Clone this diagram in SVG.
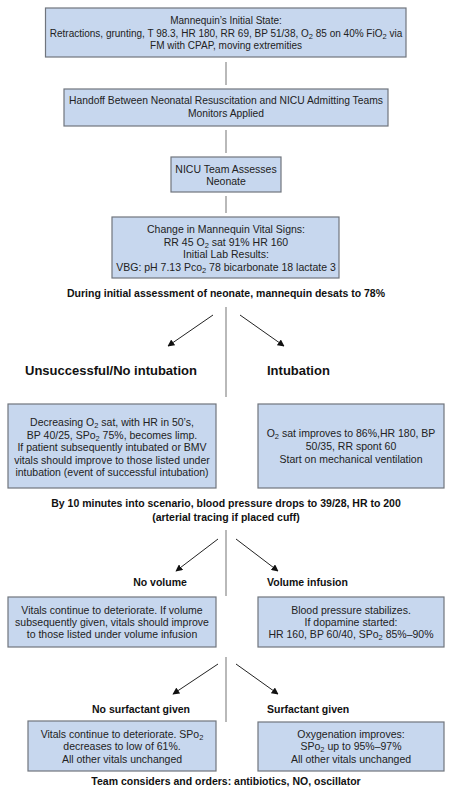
<svg xmlns="http://www.w3.org/2000/svg" width="474" height="799" viewBox="0 0 474 799">
<defs>
<style>
.box{fill:#c7d7ee;stroke:#70757d;stroke-width:1.2}
.t{font-family:"Liberation Sans",Arial,sans-serif;font-size:10.5px;fill:#222;text-anchor:middle}
.b{font-family:"Liberation Sans",Arial,sans-serif;font-size:10.5px;font-weight:bold;fill:#111;text-anchor:middle}
.h{font-family:"Liberation Sans",Arial,sans-serif;font-size:13px;font-weight:bold;fill:#111}
.s{font-size:7.5px;baseline-shift:-2px}
.v{stroke:#8a8a8a;stroke-width:1.2;fill:none}
.a{stroke:#222;stroke-width:1;fill:none;marker-end:url(#ah)}
</style>
<marker id="ah" viewBox="0 0 10 10" refX="9" refY="5" markerWidth="7" markerHeight="7" orient="auto" markerUnits="userSpaceOnUse"><path d="M0,0 L10,5 L0,10 z" fill="#111"/></marker>
</defs>
<rect width="474" height="799" fill="#fff"/>
<g id="connectors">
<line class="v" x1="226" y1="62" x2="226" y2="85"/>
<line class="v" x1="226" y1="130" x2="226" y2="153"/>
<line class="v" x1="226" y1="196" x2="226" y2="213"/>
<line class="v" x1="226" y1="307" x2="226" y2="397"/>
<line class="a" x1="213" y1="315" x2="168" y2="346"/>
<line class="a" x1="240" y1="315" x2="284" y2="346"/>
<line class="v" x1="226" y1="530" x2="226" y2="596"/>
<line class="a" x1="218" y1="539" x2="176" y2="571"/>
<line class="a" x1="236" y1="539" x2="278" y2="571"/>
<line class="v" x1="226" y1="657" x2="226" y2="722"/>
<line class="a" x1="218" y1="664" x2="173" y2="694"/>
<line class="a" x1="236" y1="664" x2="278" y2="694"/>
</g>
<g id="n1"><rect class="box" x="45.5" y="8" width="360.5" height="49"/>
<text class="t" x="226" y="24" style="font-size:10px">Mannequin’s Initial State:</text>
<text class="t" x="226" y="36.5" style="font-size:10px">Retractions, grunting, T 98.3, HR 180, RR 69, BP 51/38, O<tspan class="s">2</tspan> 85 on 40% FiO<tspan class="s">2</tspan> via</text>
<text class="t" x="226" y="49" style="font-size:10px">FM with CPAP, moving extremities</text></g>
<g id="n2"><rect class="box" x="64" y="89" width="324" height="37"/>
<text class="t" x="226" y="104" style="font-size:10.3px">Handoff Between Neonatal Resuscitation and NICU Admitting Teams</text>
<text class="t" x="226" y="117" style="font-size:10.3px">Monitors Applied</text></g>
<g id="n3"><rect class="box" x="171" y="157" width="110" height="35"/>
<text class="t" x="226" y="173">NICU Team Assesses</text>
<text class="t" x="226" y="185">Neonate</text></g>
<g id="n4"><rect class="box" x="112" y="217" width="227" height="61"/>
<text class="t" x="226" y="233">Change in Mannequin Vital Signs:</text>
<text class="t" x="226" y="245.5">RR 45 O<tspan class="s">2</tspan> sat 91% HR 160</text>
<text class="t" x="226" y="258">Initial Lab Results:</text>
<text class="t" x="226" y="270.5">VBG: pH 7.13 Pco<tspan class="s">2</tspan> 78 bicarbonate 18 lactate 3</text></g>
<g id="e1"><text class="b" x="226" y="297">During initial assessment of neonate, mannequin desats to 78%</text></g>
<g id="l1"><text class="h" x="25" y="375">Unsuccessful/No intubation</text></g>
<g id="l2"><text class="h" x="267" y="375">Intubation</text></g>
<g id="n5"><rect class="box" x="8" y="404" width="208" height="84"/>
<text class="t" x="112" y="426">Decreasing O<tspan class="s">2</tspan> sat, with HR in 50’s,</text>
<text class="t" x="112" y="438.5">BP 40/25, SPo<tspan class="s">2</tspan> 75%, becomes limp.</text>
<text class="t" x="112" y="451">If patient subsequently intubated or BMV</text>
<text class="t" x="112" y="463.5">vitals should improve to those listed under</text>
<text class="t" x="112" y="476">intubation (event of successful intubation)</text></g>
<g id="n6"><rect class="box" x="258" y="404" width="186" height="84"/>
<text class="t" x="351" y="437">O<tspan class="s">2</tspan> sat improves to 86%,HR 180, BP</text>
<text class="t" x="351" y="450">50/35, RR spont 60</text>
<text class="t" x="351" y="462.5">Start on mechanical ventilation</text></g>
<g id="e2"><text class="b" x="226" y="507">By 10 minutes into scenario, blood pressure drops to 39/28, HR to 200</text>
<text class="b" x="226" y="521">(arterial tracing if placed cuff)</text></g>
<g id="l3"><text class="b" x="160" y="586">No volume</text></g>
<g id="l4"><text class="b" x="267" y="586" style="text-anchor:start">Volume infusion</text></g>
<g id="n7"><rect class="box" x="8" y="597" width="208" height="50"/>
<text class="t" x="112" y="614">Vitals continue to deteriorate. If volume</text>
<text class="t" x="112" y="626">subsequently given, vitals should improve</text>
<text class="t" x="112" y="638">to those listed under volume infusion</text></g>
<g id="n8"><rect class="box" x="258" y="597" width="186" height="50"/>
<text class="t" x="351" y="614">Blood pressure stabilizes.</text>
<text class="t" x="351" y="626">If dopamine started:</text>
<text class="t" x="351" y="638">HR 160, BP 60/40, SPo<tspan class="s">2</tspan> 85%–90%</text></g>
<g id="l5"><text class="b" x="92" y="713" style="text-anchor:start">No surfactant given</text></g>
<g id="l6"><text class="b" x="267" y="713" style="text-anchor:start">Surfactant given</text></g>
<g id="n9"><rect class="box" x="28" y="721" width="188" height="50"/>
<text class="t" x="122" y="737.5">Vitals continue to deteriorate. SPo<tspan class="s">2</tspan></text>
<text class="t" x="122" y="750">decreases to low of 61%.</text>
<text class="t" x="122" y="762.5">All other vitals unchanged</text></g>
<g id="n10"><rect class="box" x="258" y="722" width="186" height="49"/>
<text class="t" x="351" y="737.5">Oxygenation improves:</text>
<text class="t" x="351" y="750">SPo<tspan class="s">2</tspan> up to 95%–97%</text>
<text class="t" x="351" y="762.5">All other vitals unchanged</text></g>
<g id="e3"><text class="b" x="226" y="785">Team considers and orders: antibiotics, NO, oscillator</text></g>
</svg>
